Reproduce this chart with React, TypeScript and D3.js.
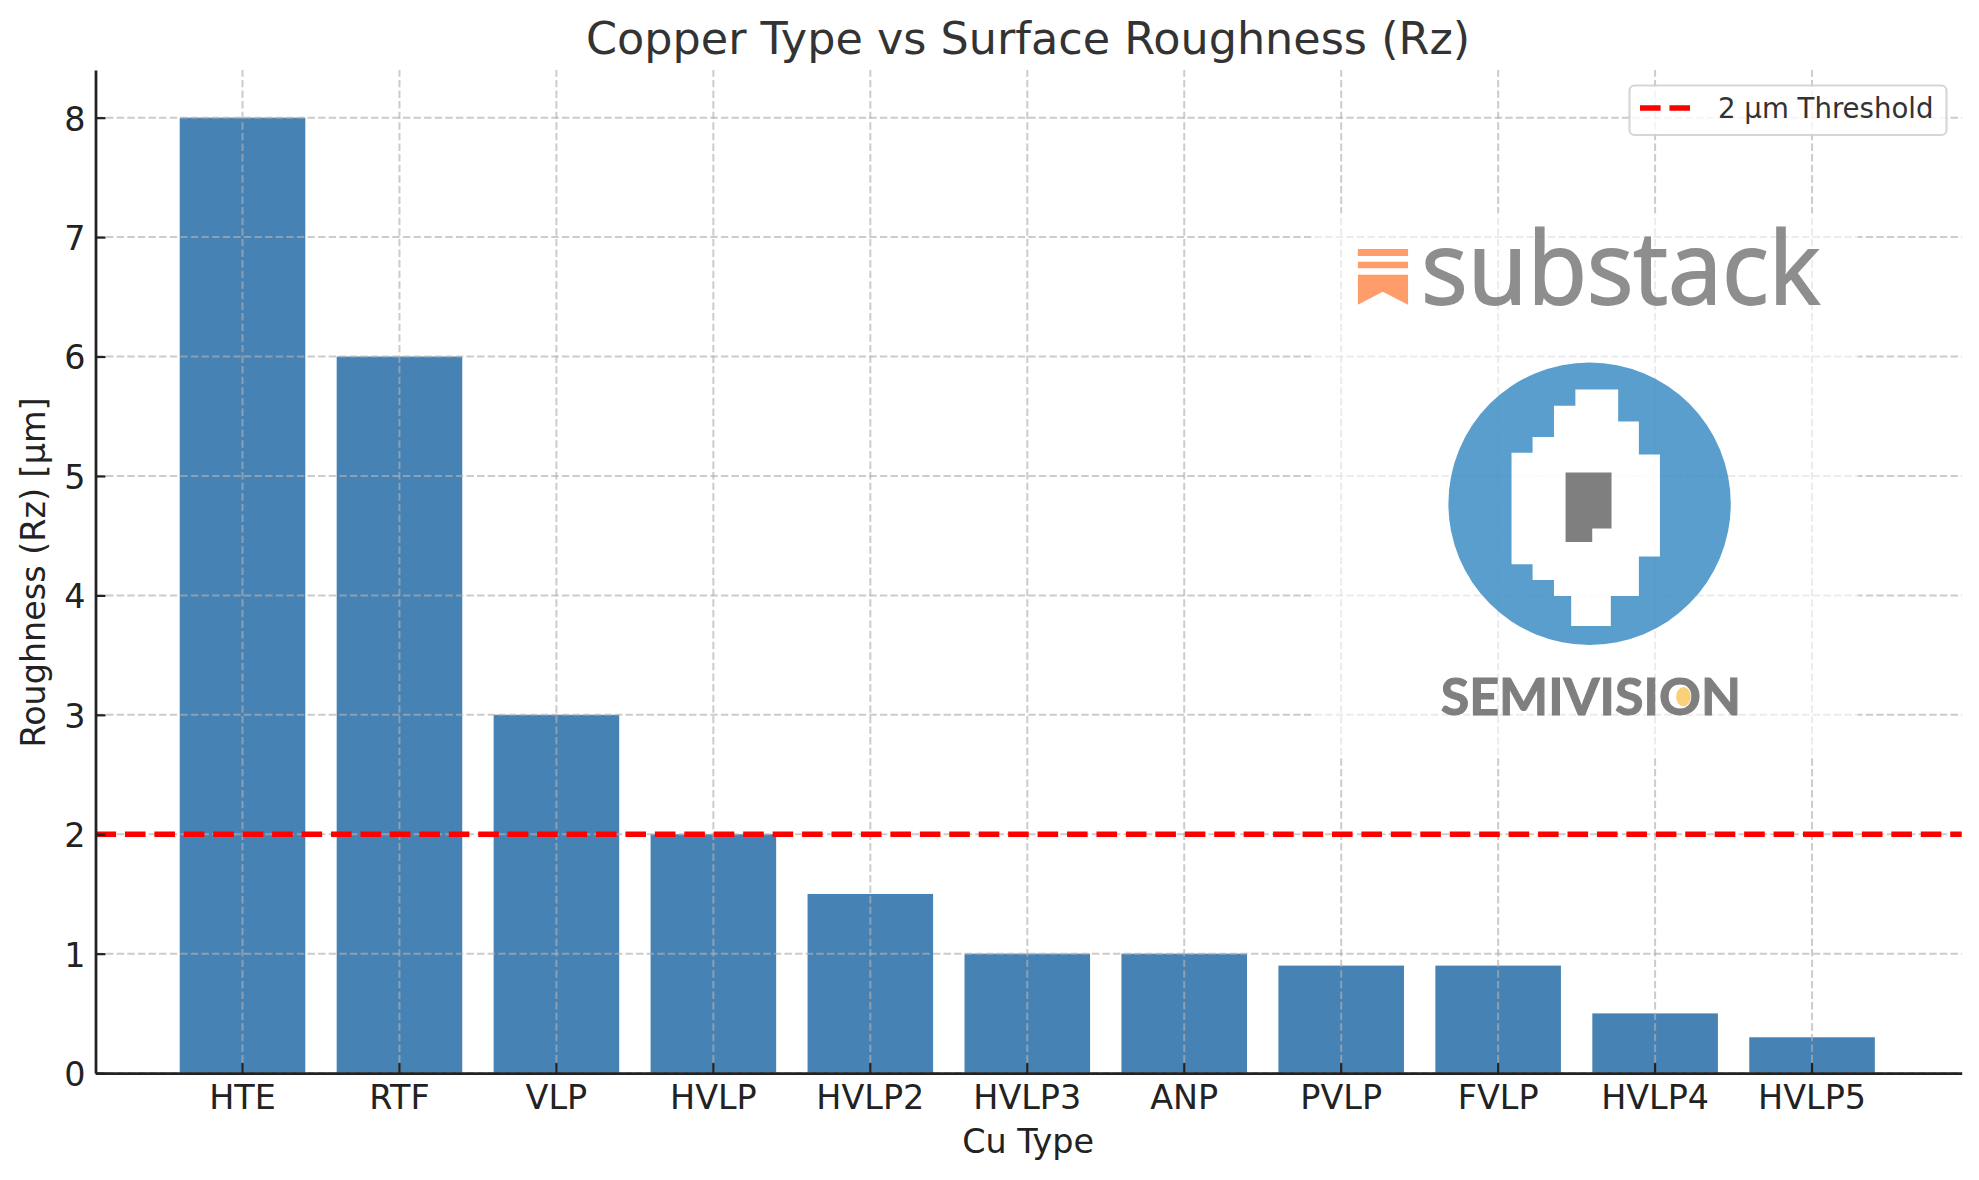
import { useEffect, useRef } from 'react';
import * as d3 from 'd3';

const categories = ['HTE', 'RTF', 'VLP', 'HVLP', 'HVLP2', 'HVLP3', 'ANP', 'PVLP', 'FVLP', 'HVLP4', 'HVLP5'];
const roughness = [8, 6, 3, 2, 1.5, 1, 1, 0.9, 0.9, 0.5, 0.3];
const yTicks = [0, 1, 2, 3, 4, 5, 6, 7, 8];
const threshold = 2;
const thresholdLabel = '2 µm Threshold';

const WIDTH = 1979;
const HEIGHT = 1180;
const FONT = '"DejaVu Sans", sans-serif';
const margin = { top: 70, right: 17.3, bottom: 106.9, left: 95.5 };

export default function App() {
  const svgRef = useRef<SVGSVGElement>(null);

  useEffect(() => {
    if (!svgRef.current) return;

    const svg = d3.select(svgRef.current);
    svg.selectAll('*').remove();

    const left = margin.left;
    const right = WIDTH - margin.right;
    const top = margin.top;
    const bottom = HEIGHT - margin.bottom;

    const x = d3.scaleBand<string>()
      .domain(categories)
      .range([left, right])
      .paddingInner(0.2)
      .paddingOuter(0.545)
      .align(0.4923);

    // 8.4 leaves the same headroom above the top bar as the reference
    const y = d3.scaleLinear()
      .domain([0, 8.4])
      .range([bottom, bottom - 8.4 * 119.43]);

    const xMid = (d: string) => (x(d) as number) + x.bandwidth() / 2;

    // Bars
    svg.append('g')
      .selectAll('rect')
      .data(roughness)
      .enter().append('rect')
      .attr('x', (d, i) => x(categories[i]) as number)
      .attr('y', d => y(d))
      .attr('width', x.bandwidth())
      .attr('height', d => y(0) - y(d))
      .attr('fill', '#4682B4');

    // Grid
    const grid = svg.append('g')
      .attr('stroke', '#b0b0b0')
      .attr('stroke-opacity', 0.65)
      .attr('stroke-width', 2)
      .attr('stroke-dasharray', '7.4 3.2');

    grid.selectAll('.gx')
      .data(categories)
      .enter().append('line')
      .attr('class', 'gx')
      .attr('x1', d => xMid(d))
      .attr('x2', d => xMid(d))
      .attr('y1', bottom)
      .attr('y2', top);

    grid.selectAll('.gy')
      .data(yTicks)
      .enter().append('line')
      .attr('class', 'gy')
      .attr('x1', left)
      .attr('x2', right)
      .attr('y1', d => y(d))
      .attr('y2', d => y(d));

    // Threshold line
    svg.append('line')
      .attr('x1', left)
      .attr('x2', right)
      .attr('y1', y(threshold))
      .attr('y2', y(threshold))
      .attr('stroke', '#ff0000')
      .attr('stroke-width', 5.5)
      .attr('stroke-dasharray', '20.6 8.84');

    // Axes, ticks point inward
    const xAxis = svg.append('g')
      .attr('transform', `translate(0,${bottom})`)
      .call(d3.axisBottom(x).tickSizeInner(-10).tickSizeOuter(0).tickPadding(12));

    const yAxis = svg.append('g')
      .attr('transform', `translate(${left},0)`)
      .call(d3.axisLeft(y).tickValues(yTicks).tickFormat(d3.format('d')).tickSizeInner(-10).tickSizeOuter(0).tickPadding(10));

    [xAxis, yAxis].forEach(axis => {
      axis.selectAll('.domain').attr('stroke', '#222').attr('stroke-width', 2.76);
      axis.selectAll('.tick line').attr('stroke', '#222').attr('stroke-width', 2.2);
      axis.selectAll('.tick text')
        .attr('fill', '#222')
        .attr('font-family', FONT)
        .attr('font-size', 33.4);
    });
    yAxis.selectAll('.tick text').attr('dy', '0.37em');

    const addText = (txt: string, px: number, py: number, size: number, fill: string, anchor = 'middle') =>
      svg.append('text')
        .attr('x', px)
        .attr('y', py)
        .attr('text-anchor', anchor)
        .attr('font-family', FONT)
        .attr('font-size', size)
        .attr('fill', fill)
        .text(txt);

    addText('Copper Type vs Surface Roughness (Rz)', (left + right) / 2 - 0.5, 54, 44.5, '#333');
    addText('Cu Type', (left + right) / 2 - 0.5, 1153, 33.4, '#222');
    addText('Roughness (Rz) [µm]', 0, 0, 33.4, '#222')
      .attr('transform', `translate(45,${(top + bottom) / 2 + 1}) rotate(-90)`);

    // Legend
    svg.append('rect')
      .attr('x', 1629.5)
      .attr('y', 85.5)
      .attr('width', 317)
      .attr('height', 49.5)
      .attr('rx', 5)
      .attr('fill', 'white')
      .attr('fill-opacity', 0.8)
      .attr('stroke', '#ccc')
      .attr('stroke-opacity', 0.8)
      .attr('stroke-width', 2.2);
    svg.append('line')
      .attr('x1', 1640)
      .attr('x2', 1690)
      .attr('y1', 108)
      .attr('y2', 108)
      .attr('stroke', '#ff0000')
      .attr('stroke-width', 5.5)
      .attr('stroke-dasharray', '20.6 8.84');
    addText(thresholdLabel, 1718, 118, 27.6, '#333', 'start');

    // Watermark: pale box that fades the grid, then the logos on top
    svg.append('rect')
      .attr('x', 1314)
      .attr('y', 213)
      .attr('width', 544)
      .attr('height', 545)
      .attr('fill', 'white')
      .attr('fill-opacity', 0.62);

    const logo = svg.append('g')
      .attr('opacity', 0.85)
      .attr('transform', 'translate(1300,200) scale(0.3508,0.3571)');

    logo.append('path')
      .attr('d', 'M165,137H308V157H165ZM165,173H308V191H165ZM165,209H308V293L236,257L165,293Z')
      .attr('fill', '#FF8D51');
    logo.append('text')
      .attr('x', 346)
      .attr('y', 291)
      .attr('font-family', '"Open Sans", sans-serif')
      .attr('font-size', 282)
      .attr('textLength', 1136)
      .attr('lengthAdjust', 'spacingAndGlyphs')
      .attr('fill', '#7b7b7b')
      .attr('stroke', '#7b7b7b')
      .attr('stroke-width', 5)
      .text('substack');

    logo.append('ellipse')
      .attr('cx', 825.5)
      .attr('cy', 850.5)
      .attr('rx', 402.5)
      .attr('ry', 395.5)
      .attr('fill', '#3E8EC6');
    logo.append('path')
      .attr('d', 'M785,531H907V620H966V713H1026V998H966V1109H886V1193H773V1109H724V1064H663V1020H603V708H663V664H724V576H785Z')
      .attr('fill', 'white');
    logo.append('path')
      .attr('d', 'M757,763H888V920H833V958H757Z')
      .attr('fill', '#696969');

    logo.append('text')
      .attr('x', 401)
      .attr('y', 1442)
      .attr('font-family', 'Lato, sans-serif')
      .attr('font-weight', 700)
      .attr('font-size', 146)
      .attr('textLength', 856)
      .attr('lengthAdjust', 'spacingAndGlyphs')
      .attr('fill', '#696969')
      .attr('stroke', '#696969')
      .attr('stroke-width', 3)
      .text('SEMIVISION');
    logo.append('ellipse')
      .attr('cx', 1093)
      .attr('cy', 1391)
      .attr('rx', 21)
      .attr('ry', 27)
      .attr('fill', '#F8CA63');
  }, []);

  return (
    <svg
      ref={svgRef}
      width={WIDTH}
      height={HEIGHT}
      style={{ display: 'block', position: 'absolute', top: 0, left: 0, background: 'white' }}
    />
  );
}
